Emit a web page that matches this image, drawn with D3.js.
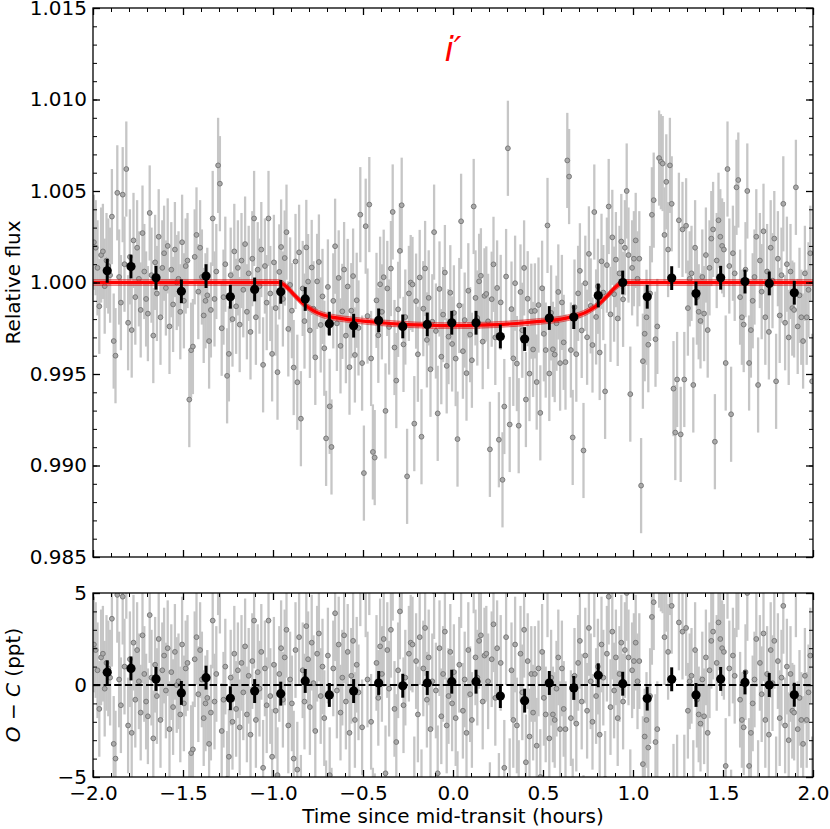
<!DOCTYPE html>
<html><head><meta charset="utf-8">
<script src="https://cdn.jsdelivr.net/npm/d3@7"></script>
<style>
body{margin:0;background:#fff}
svg{display:block}
text{font-family:"DejaVu Sans",sans-serif}
</style>
</head><body>
<svg id="chart" width="830" height="829"></svg>
<script>
// ---- Data ----
// Unbinned residuals O-C in ppt, one per exposure (cadence 0.01 h starting at -1.995 h)
const residPpt = [
 2.2, 1.9, 0.8,-1.3, 1.5, 1.7,-0.2, 1.2, 0.9, 0.4,
 3.6,-3.2,-4.0, 4.9, 0.3,-1.1, 4.8, 1.0, 6.2,-2.2,
 1.4,-2.6, 2.3,-0.8, 1.9, 0.2,-1.5, 2.7, 0.6,-0.9,
-1.7, 3.8, 0.4,-2.9, 1.1,-0.6, 2.5,-1.9, 0.8, 1.6,
-0.3, 2.0,-2.4, 0.7,-1.2, 1.8, 0.0, 0.2,-1.6, 2.2,
-1.0, 0.9, 1.2,-6.4,-3.7,-3.5, 1.4, 2.6,-0.5, 1.9,
 0.3,-1.8,-1.0,-0.7,-3.2,-1.5, 3.5,-0.9, 0.6, 6.4,
 5.4,-2.5,-0.8, 1.0,-5.1,-3.9, 0.4,-2.0, 1.7,-1.3,
 0.8,-2.3, 1.2,-0.4, 2.1,-1.6, 0.5,-2.7, 1.3, 3.5,
-1.9, 0.7,-0.2, 1.8,-4.5, 0.9,-1.1, 3.5,-0.6,-3.9,
 1.1,-1.4,-4.9, 0.6, 2.0,-0.8, 1.5, 3.0,-2.2, 0.3,
-1.0,-4.0, 1.9,-4.6, 2.6,-6.4, 0.8,-0.9, 3.2, 1.4,
-1.2, 2.3, 0.1,-2.5, 1.7, 2.8,-0.6, 1.0,-1.8,-6.7,
 1.6,-4.9,-7.1, 0.9, 3.9,-0.3, 2.2,-1.5, 0.4, 2.7,
-0.9, 1.8,-2.6, 0.5, 2.4,-1.9, 1.1,-0.4, 5.8,-2.3,
-8.3, 5.2, 0.3, 6.4,-2.0,-7.1,-7.4, 1.2,-0.7, 2.1,
 0.6, 2.5,-4.8, 1.9,-0.2, 3.0, 6.1,-1.3,-3.1, 0.8,
 4.0, 6.5,-1.1, 0.4,-8.3, 1.7, 2.3, 2.2,-5.4, 1.3,
-1.6, 2.6,-6.1, 0.9, 3.1,-0.8, 1.5,-2.4, 0.2, 5.1,
-0.3,-4.8, 2.0,-1.7, 0.6, 2.9,-2.2,-0.6, 1.8,-1.0,
 0.7,-1.8,-6.2, 1.1, 5.7,-1.4, 0.3,-2.6, 1.9,-0.5,
-1.9, 6.5, 1.5, 0.4, 2.4, 2.7,-0.9, 1.6, 1.7, 0.2,
-6.8, 1.4, 3.3,-0.7, 2.0,-6.3, 1.2,-8.5,-4.5, 2.6,
 9.6,-5.5, 0.8,-1.9, 2.2,-2.2,-5.6, 1.7,-0.4, 3.0,
-4.2, 1.3,-2.8, 0.6,-1.5, 0.6,-3.3, 0.9,-5.0, 1.8,
-0.7,-1.6, 5.2,-2.9, 0.4,-1.6,-1.9,-0.2, 1.5,-2.4,
 0.9,-1.3,-2.4, 8.6, 7.7,-1.8,-6.6, 0.5,-2.1, 1.2,
 2.4,-0.9,-7.5, 1.6,-1.4, 3.1, 0.2,-2.0, 5.2,-0.6,
 1.0,-2.7, 2.2, 0.4,-5.1, 1.7, 4.8,-1.2, 2.9,-0.3,
 1.5,-1.8, 0.6, 2.3,-0.9, 1.9, 5.0, 1.5,-6.1, 0.8,
 1.3, 2.3, 0.2, 1.3,-11.1,-4.3,-2.8,-1.9,-3.4,-0.6,
 3.7, 4.5,-3.1,-2.4, 6.8, 6.6, 6.5, 2.6, 5.5, 1.8,
 6.4, 4.3,-5.8,-8.2,-5.3, 3.4,-8.3, 2.9,-5.3, 3.1,
-1.4, 0.2, 0.5,-5.6, 1.9,-0.8,-1.6,-2.1, 0.3,-1.7,
 1.5,-2.6, 0.8, 2.4, 2.9,-8.7, 1.2, 3.4, 2.5, 2.0,
 1.8,-4.4, 6.2, 0.9,-7.2, 1.6, 0.5, 5.2, 5.6,-0.8,
-1.9,-2.3, 0.7, 5.0,-4.4,-2.6,-1.0, 0.3, 2.5,-5.6,
 1.2,-0.5, 2.8,-1.9, 0.6,-2.7, 1.9, 0.1, 2.4,-5.4,
 1.3,-1.8, 0.4, 4.3,-2.2, 1.0,-3.0, 0.6,-1.4,-1.5,
 5.2,-2.4,-0.7,-1.9,-3.2, 0.5,-1.9,-0.4, 1.6,-5.4
];
const obsStart = -1.995;      // hours
const obsCadence = 0.01;      // hours
const pointErrPpt = 2.6;      // per-point uncertainty (ppt)

// Binned points
const binTime = [-1.921,-1.789,-1.650,-1.509,-1.372,-1.237,-1.102,-0.957,-0.821,-0.687,
  -0.552,-0.413,-0.279,-0.143,-0.007,0.128,0.263,0.398,0.535,0.671,
  0.807,0.943,1.079,1.215,1.350,1.487,1.622,1.757,1.896];
const binFlux = [1.00064,1.00087,1.00026,0.99952,1.00035,0.99922,0.99962,0.99949,0.99910,0.99775,
  0.99764,0.99793,0.99760,0.99771,0.99780,0.99780,0.99705,0.99691,0.99806,0.99811,
  0.99929,1.00000,0.99922,1.00024,0.99940,1.00026,1.00005,0.99995,0.99944];
const binResid = [0.69,0.90,0.33,-0.43,0.40,-0.72,-0.33,-0.47,0.22,-0.54,
  -0.33,0.11,-0.04,0.11,0.18,0.18,-0.60,-0.85,0.11,-0.16,
  0.53,0.07,-0.74,0.31,-0.54,0.33,0.14,0.00,-0.53];
const binErrPpt = 0.65;

// Best-fit transit model
const modelTime = [-2.0,-0.97,-0.94,-0.91,-0.88,-0.85,-0.82,-0.79,-0.76,-0.72,-0.68,-0.60,-0.50,-0.40,-0.30,-0.20,-0.10,
  0.0,0.10,0.20,0.30,0.40,0.50,0.60,0.66,0.70,0.74,0.77,0.80,0.83,0.86,0.89,0.92,0.95,2.0];
const modelFlux = [1.0,1.0,0.99988,0.99962,0.99930,0.9990,0.99875,0.99855,0.99838,0.99822,0.99812,0.99800,0.99789,0.99780,0.99773,0.99768,0.99765,
  0.99764,0.99765,0.99768,0.99773,0.99780,0.99789,0.99800,0.99812,0.99822,0.99838,0.99855,0.99875,0.9990,0.99930,0.99962,0.99988,1.0,1.0];

// Tick labels
const xTicks = [-2.0,-1.5,-1.0,-0.5,0.0,0.5,1.0,1.5,2.0];
const fluxTicks = [0.985,0.990,0.995,1.000,1.005,1.010,1.015];
const residTicks = [-5,0,5];

// ---- Layout ----
const L = 93, R = 813, T1 = 8, B1 = 557, T2 = 593, B2 = 777;
const FS = 20;

const svg = d3.select("#chart");
const x = d3.scaleLinear([-2, 2], [L, R]);
const y1 = d3.scaleLinear([0.985, 1.015], [B1, T1]);
const y2 = d3.scaleLinear([-5, 5], [B2, T2]);
const modelAt = d3.scaleLinear(modelTime, modelFlux);

const obs = residPpt.map((r, i) => {
  const t = obsStart + i * obsCadence;
  return {t, r, f: modelAt(t) + r / 1000};
});

const defs = svg.append("defs");
defs.append("clipPath").attr("id", "clip1").append("rect")
  .attr("x", L).attr("y", T1).attr("width", R - L).attr("height", B1 - T1);
defs.append("clipPath").attr("id", "clip2").append("rect")
  .attr("x", L).attr("y", T2).attr("width", R - L).attr("height", B2 - T2);

const errCol = "#c6c6c6", ptFill = "#a9a9a9", ptStroke = "#7a7a7a";
const barW = 2.3, ptR = 2.4;

// ---- Top panel ----
const p1 = svg.append("g").attr("clip-path", "url(#clip1)");
p1.append("g").selectAll("line").data(obs).join("line")
  .attr("x1", d => x(d.t)).attr("x2", d => x(d.t))
  .attr("y1", d => y1(d.f - pointErrPpt / 1000)).attr("y2", d => y1(d.f + pointErrPpt / 1000))
  .attr("stroke", errCol).attr("stroke-width", barW);
p1.append("g").selectAll("circle").data(obs).join("circle")
  .attr("cx", d => x(d.t)).attr("cy", d => y1(d.f)).attr("r", ptR)
  .attr("fill", ptFill).attr("stroke", ptStroke).attr("stroke-width", 1);

// model band + line
const mdl = modelTime.map((t, i) => ({t, f: modelFlux[i]}));
const band = d3.area().x(d => x(d.t)).y0(d => y1(d.f - 0.00016)).y1(d => y1(d.f + 0.00016)).curve(d3.curveMonotoneX);
p1.append("path").datum(mdl).attr("d", band).attr("fill", "rgba(255,0,0,0.35)");
const lineHi = d3.line().x(d => x(d.t)).y(d => y1(d.f + 0.00016)).curve(d3.curveMonotoneX);
const lineLo = d3.line().x(d => x(d.t)).y(d => y1(d.f - 0.00016)).curve(d3.curveMonotoneX);
p1.append("path").datum(mdl).attr("d", lineHi).attr("fill", "none").attr("stroke", "rgba(200,0,0,0.55)").attr("stroke-width", 0.8);
p1.append("path").datum(mdl).attr("d", lineLo).attr("fill", "none").attr("stroke", "rgba(200,0,0,0.55)").attr("stroke-width", 0.8);
const mline = d3.line().x(d => x(d.t)).y(d => y1(d.f)).curve(d3.curveMonotoneX);
p1.append("path").datum(mdl).attr("d", mline).attr("fill", "none").attr("stroke", "#ff0000").attr("stroke-width", 3.2);

// binned points
const bins = binTime.map((t, i) => ({t, f: binFlux[i], r: binResid[i]}));
p1.append("g").selectAll("line").data(bins).join("line")
  .attr("x1", d => x(d.t)).attr("x2", d => x(d.t))
  .attr("y1", d => y1(d.f - binErrPpt / 1000)).attr("y2", d => y1(d.f + binErrPpt / 1000))
  .attr("stroke", "#000").attr("stroke-width", 3);
p1.append("g").selectAll("circle").data(bins).join("circle")
  .attr("cx", d => x(d.t)).attr("cy", d => y1(d.f)).attr("r", 4.6).attr("fill", "#000");

// ---- Bottom panel ----
const p2 = svg.append("g").attr("clip-path", "url(#clip2)");
p2.append("g").selectAll("line").data(obs).join("line")
  .attr("x1", d => x(d.t)).attr("x2", d => x(d.t))
  .attr("y1", d => y2(d.r - pointErrPpt)).attr("y2", d => y2(d.r + pointErrPpt))
  .attr("stroke", errCol).attr("stroke-width", barW);
p2.append("g").selectAll("circle").data(obs).join("circle")
  .attr("cx", d => x(d.t)).attr("cy", d => y2(d.r)).attr("r", ptR)
  .attr("fill", ptFill).attr("stroke", ptStroke).attr("stroke-width", 1);
p2.append("line").attr("x1", L).attr("x2", R).attr("y1", y2(0)).attr("y2", y2(0))
  .attr("stroke", "#000").attr("stroke-width", 2).attr("stroke-dasharray", "7.4,3.2");
p2.append("g").selectAll("line").data(bins).join("line")
  .attr("x1", d => x(d.t)).attr("x2", d => x(d.t))
  .attr("y1", d => y2(d.r - binErrPpt)).attr("y2", d => y2(d.r + binErrPpt))
  .attr("stroke", "#000").attr("stroke-width", 3);
p2.append("g").selectAll("circle").data(bins).join("circle")
  .attr("cx", d => x(d.t)).attr("cy", d => y2(d.r)).attr("r", 4.6).attr("fill", "#000");

// ---- Axes ----
function styleAxis(g, width) {
  g.select(".domain").remove();
  g.selectAll(".tick line").attr("stroke", "#000").attr("stroke-width", width);
  g.selectAll(".tick text").attr("font-size", FS).attr("fill", "#000").attr("font-family", "DejaVu Sans, sans-serif");
}
function addAxes(yScale, top, bottom, yTickVals, yFmt, xLabels) {
  const MAJ = 7, MIN = 4;
  const xMinor = x.ticks(40), yMinor = yScale.ticks(yScale === y1 ? 30 : 10);
  svg.append("g").attr("transform", `translate(0,${bottom})`)
    .call(d3.axisBottom(x).tickValues(xMinor).tickSize(-MIN).tickFormat("")).call(g => styleAxis(g, 1));
  svg.append("g").attr("transform", `translate(0,${bottom})`)
    .call(d3.axisBottom(x).tickValues(xTicks).tickSize(-MAJ).tickPadding(9)
      .tickFormat(xLabels ? d3.format(".1f") : "")).call(g => styleAxis(g, 1.3));
  svg.append("g").attr("transform", `translate(0,${top})`)
    .call(d3.axisTop(x).tickValues(xMinor).tickSize(-MIN).tickFormat("")).call(g => styleAxis(g, 1));
  svg.append("g").attr("transform", `translate(0,${top})`)
    .call(d3.axisTop(x).tickValues(xTicks).tickSize(-MAJ).tickFormat("")).call(g => styleAxis(g, 1.3));
  svg.append("g").attr("transform", `translate(${L},0)`)
    .call(d3.axisLeft(yScale).tickValues(yMinor).tickSize(-MIN).tickFormat("")).call(g => styleAxis(g, 1));
  svg.append("g").attr("transform", `translate(${L},0)`)
    .call(d3.axisLeft(yScale).tickValues(yTickVals).tickSize(-MAJ).tickPadding(6).tickFormat(yFmt)).call(g => styleAxis(g, 1.3));
  svg.append("g").attr("transform", `translate(${R},0)`)
    .call(d3.axisRight(yScale).tickValues(yMinor).tickSize(-MIN).tickFormat("")).call(g => styleAxis(g, 1));
  svg.append("g").attr("transform", `translate(${R},0)`)
    .call(d3.axisRight(yScale).tickValues(yTickVals).tickSize(-MAJ).tickFormat("")).call(g => styleAxis(g, 1.3));
  svg.append("rect").attr("x", L).attr("y", top).attr("width", R - L).attr("height", bottom - top)
    .attr("fill", "none").attr("stroke", "#000").attr("stroke-width", 1.3);
}
addAxes(y1, T1, B1, fluxTicks, d3.format(".3f"), false);
addAxes(y2, T2, B2, residTicks, d3.format("d"), true);

// ---- Labels ----
svg.append("text").attr("transform", `translate(20,${(T1 + B1) / 2}) rotate(-90)`)
  .attr("text-anchor", "middle").attr("font-size", FS).text("Relative flux");
const oc = svg.append("text").attr("transform", `translate(20,${(T2 + B2) / 2}) rotate(-90)`)
  .attr("text-anchor", "middle").attr("font-size", FS);
oc.append("tspan").attr("font-style", "italic").text("O");
oc.append("tspan").text(" \u2212 ");
oc.append("tspan").attr("font-style", "italic").text("C");
oc.append("tspan").text(" (ppt)");
svg.append("text").attr("x", (L + R) / 2).attr("y", 823).attr("text-anchor", "middle")
  .attr("font-size", FS).text("Time since mid-transit (hours)");
svg.append("text").attr("x", x(0)).attr("y", 61).attr("text-anchor", "middle")
  .attr("font-size", 34).attr("font-style", "italic").attr("fill", "#ff0000").text("i\u2032");
</script>
</body></html>
